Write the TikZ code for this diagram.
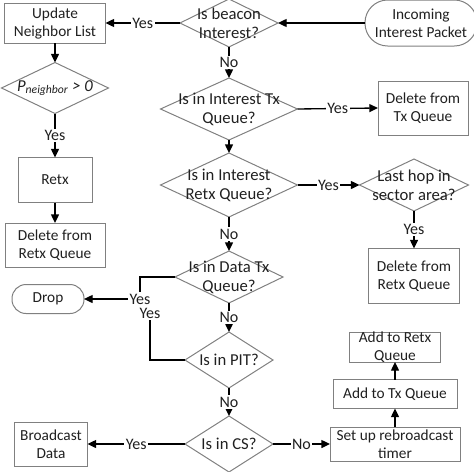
\documentclass[tikz,border=0pt]{standalone}
\usepackage{fontspec}
\setmainfont{Carlito}
\usetikzlibrary{shapes.geometric,arrows.meta}
\definecolor{edgec}{HTML}{808080}
\definecolor{txtc}{HTML}{202020}
\begin{document}
\begin{tikzpicture}[x=0.75pt,y=-0.75pt,
  font=\fontsize{11.5}{13.5}\selectfont,
  sz/.style 2 args={minimum width=#1*0.75pt,minimum height=#2*0.75pt},
  bx/.style={draw=edgec,line width=0.75pt,inner sep=0pt,outer sep=0pt,align=center,text=txtc},
  dm/.style={draw=edgec,line width=0.75pt,shape=diamond,inner sep=0pt,outer sep=0pt},
  dtx/.style={align=center,text=txtc,inner sep=0pt,font=\fontsize{12.5}{14.3}\selectfont},
  arr/.style={-{Triangle[length=6.5pt,width=6pt]},line width=1pt,black},
  ln/.style={line width=1pt,black},
  lb/.style={fill=white,inner sep=1pt,text=txtc,font=\fontsize{12}{14}\selectfont}]
\useasboundingbox (0,0) rectangle (474,471);

% nodes
\node[bx,sz={112}{46},rounded corners=17pt] (inc) at (421,23) {Incoming\\Interest Packet};
\node[dm,sz={98}{48},label={[dtx]center:{Is beacon\\Interest?}}] (d1) at (229,23) {};
\node[bx,sz={101}{40}] (upd) at (55,23) {Update\\Neighbor List};
\node[dm,sz={107}{51},label={[dtx]center:{\itshape P\textsubscript{neighbor} > 0}}] (dp) at (55,88) {};
\node[bx,sz={74}{45}] (retx) at (55,180) {Retx};
\node[bx,sz={100}{44}] (del1) at (55,245) {Delete from\\Retx Queue};
\node[dm,sz={137}{62},label={[dtx]center:{Is in Interest Tx\\Queue?}}] (d2) at (229,109) {};
\node[bx,sz={90}{54}] (deltx) at (423,108) {Delete from\\Tx Queue};
\node[dm,sz={137}{64},label={[dtx]center:{Is in Interest\\Retx Queue?}}] (d3) at (229,185) {};
\node[dm,sz={109}{52},label={[dtx]center:{Last hop in\\sector area?}}] (lh) at (414,185) {};
\node[bx,sz={91}{55}] (del2) at (414,276) {Delete from\\Retx Queue};
\node[dm,sz={108}{52},label={[dtx]center:{Is in Data Tx\\Queue?}}] (d4) at (229,277) {};
\node[bx,sz={72}{29},rounded corners=10.5pt] (drop) at (48,299) {Drop};
\node[dm,sz={88}{56},label={[dtx]center:{Is in PIT?}}] (d5) at (229,360) {};
\node[dm,sz={88}{56},label={[dtx]center:{Is in CS?}}] (d6) at (229,444) {};
\node[bx,sz={73}{44}] (bc) at (51,444) {Broadcast\\Data};
\node[bx,sz={130}{34}] (setup) at (395,444) {Set up rebroadcast\\timer};
\node[bx,sz={124}{29}] (addtx) at (395,394) {Add to Tx Queue};
\node[bx,sz={91}{30},label={[bx,draw=none]center:{Add to Retx\\Queue}}] (addrtx) at (395,347) {};

% connectors
\draw[arr] (inc.west) -- (d1.east);
\draw[arr] (d1.west) -- node[lb]{Yes} (upd.east);
\draw[arr] (upd.south) -- (dp.north);
\draw[arr] (dp.south) -- node[lb]{Yes} (retx.north);
\draw[arr] (retx.south) -- (del1.north);
\draw[arr] (d1.south) -- node[lb]{No} (d2.north);
\draw[arr] (d2.east) -- node[lb]{Yes} (deltx.west);
\draw[arr] (d2.south) -- (d3.north);
\draw[arr] (d3.east) -- node[lb]{Yes} (lh.west);
\draw[arr] (lh.south) -- node[lb]{Yes} (del2.north);
\draw[arr] (d3.south) -- node[lb]{No} (d4.north);
\draw[arr] (d4.west) -- (140,277) -- (140,299) node[lb]{Yes} -- (drop.east);
\draw[ln] (d5.west) -- (150,360) -- (150,313) node[lb]{Yes};
\draw[arr] (d4.south) -- node[lb]{No} (d5.north);
\draw[arr] (d5.south) -- node[lb]{No} (d6.north);
\draw[arr] (d6.west) -- node[lb]{Yes} (bc.east);
\draw[arr] (d6.east) -- node[lb]{No} (setup.west);
\draw[arr] (setup.north) -- (addtx.south);
\draw[arr] (addtx.north) -- (addrtx.south);
\end{tikzpicture}
\end{document}
